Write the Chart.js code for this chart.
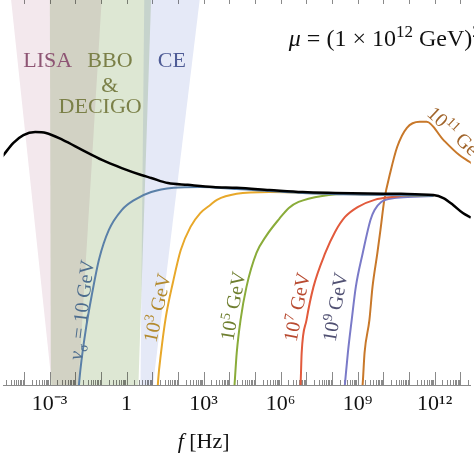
<!DOCTYPE html>
<html lang="en">
<head>
<meta charset="UTF-8">
<title>Cosmic string GW spectra</title>
<script src="https://cdn.jsdelivr.net/npm/chart.js"></script>
<style>
  html, body { margin: 0; padding: 0; background: #fff; overflow: hidden; }
  #wrap { width: 474px; height: 474px; }
</style>
</head>
<body>
<div id="wrap"><canvas id="gwChart"></canvas></div>
<script>
// x values are log10(f / Hz), y values are log10(Omega h^2)
const blackLogF = [-5.0, -4.79, -4.41, -4.02, -3.56, -3.14, -2.49, -1.72, -0.96, -0.19, 0.57, 0.96, 1.61, 2.38, 3.37, 4.29, 5.56, 6.86, 8.12, 9.39, 10.69, 11.95, 12.34, 12.72, 13.1, 13.41];
const blackOmega = [-12.55, -12.33, -11.93, -11.67, -11.57, -11.6, -11.83, -12.17, -12.5, -12.77, -13.0, -13.1, -13.27, -13.33, -13.4, -13.43, -13.5, -13.57, -13.6, -13.62, -13.63, -13.67, -13.77, -14.0, -14.27, -14.42];

const blueLogF = [-1.88, -1.84, -1.61, -1.34, -1.07, -0.69, -0.19, 0.31, 0.96, 1.84, 2.87, 4.29, 6.86, 9.39, 11.95];
const blueOmega = [-20.3, -19.83, -18.27, -16.93, -15.8, -14.83, -14.17, -13.83, -13.57, -13.43, -13.4, -13.47, -13.6, -13.66, -13.7];

const orangeLogF = [1.2, 1.23, 1.34, 1.53, 1.8, 2.11, 2.49, 2.87, 3.26, 3.52, 4.29, 5.56, 8.12, 11.95];
const orangeOmega = [-20.3, -19.83, -18.93, -17.73, -16.6, -15.5, -14.73, -14.27, -14.0, -13.83, -13.63, -13.57, -13.63, -13.7];

const greenLogF = [4.18, 4.21, 4.29, 4.44, 4.67, 5.06, 5.44, 5.94, 6.32, 6.7, 7.62, 8.77, 11.95];
const greenOmega = [-20.3, -19.93, -18.93, -17.83, -16.73, -15.6, -15.03, -14.47, -14.1, -13.9, -13.7, -13.63, -13.7];

const redLogF = [6.74, 6.78, 6.82, 7.01, 7.28, 7.74, 8.12, 8.51, 9.0, 9.66, 10.42, 11.19, 11.95];
const redOmega = [-20.3, -19.93, -18.93, -17.83, -16.73, -15.6, -14.9, -14.4, -14.07, -13.83, -13.73, -13.67, -13.7];

const purpleLogF = [8.47, 8.51, 8.62, 8.77, 8.93, 9.2, 9.5, 9.66, 9.92, 10.42, 11.19, 11.95];
const purpleOmega = [-20.3, -19.93, -18.93, -17.83, -16.73, -15.6, -14.5, -14.17, -13.9, -13.77, -13.73, -13.7];

const brownLogF = [9.16, 9.2, 9.27, 9.46, 9.58, 9.77, 9.89, 10.04, 10.27, 10.54, 10.92, 11.42, 11.69, 12.34, 12.95, 13.37, 13.6];
const brownOmega = [-20.3, -19.93, -18.93, -17.83, -16.73, -15.6, -14.83, -13.83, -12.93, -12.07, -11.43, -11.23, -11.23, -11.83, -12.33, -12.57, -12.72];

// detector sensitivity regions (outline, in order)
const lisaLogF = [-4.52, -2.91, -1.88, -0.96];
const lisaOmega = [-7.0, -20.0, -20.0, -7.0];
const bboLogF = [-2.99, -2.95, 0.46, 0.96];
const bboOmega = [-7.0, -20.0, -20.0, -7.0];
const ceLogF = [0.69, 0.54, 1.03, 2.87];
const ceOmega = [-7.0, -20.0, -20.0, -7.0];

const tickExps = [-3, 0, 3, 6, 9, 12];
const tickLabels = ['10⁻³', '1', '10³', '10⁶', '10⁹', '10¹²'];

const X_MIN = -4.79, X_MAX = 13.41;

const pts = (lf, om) => lf.map((e, i) => ({ x: Math.pow(10, e), y: om[i] }));

const notes = [
  { parts: [['LISA', '']], lf: -3.07, om: -9.17, rot: 0, color: '#8e5574' },
  { parts: [['BBO', '']], lf: -0.65, om: -9.17, rot: 0, color: '#7b8048' },
  { parts: [['&', '']], lf: -0.65, om: -10.0, rot: 0, color: '#7b8048' },
  { parts: [['DECIGO', '']], lf: -1.03, om: -10.7, rot: 0, color: '#7b8048' },
  { parts: [['CE', '']], lf: 1.76, om: -9.17, rot: 0, color: '#4f5c96' },
  { parts: [['μ', 'i'], [' = (1 × 10', ''], ['12', 'sup'], [' GeV)', ''], ['2', 'sup']], lf: 6.32, om: -8.43, rot: 0, color: '#111', align: 'left', size: 24 },
  { parts: [['v', 'i'], ['σ', 'sub'], [' = 10 GeV', '']], lf: -1.76, om: -17.5, rot: -83, color: '#4d6d8e', size: 20 },
  { parts: [['10', ''], ['3', 'sup'], [' GeV', '']], lf: 1.19, om: -17.43, rot: -78, color: '#b38a2e', size: 20 },
  { parts: [['10', ''], ['5', 'sup'], [' GeV', '']], lf: 4.14, om: -17.37, rot: -80, color: '#6f7f30', size: 20 },
  { parts: [['10', ''], ['7', 'sup'], [' GeV', '']], lf: 6.63, om: -17.4, rot: -79, color: '#b84a30', size: 20 },
  { parts: [['10', ''], ['9', 'sup'], [' GeV', '']], lf: 8.12, om: -17.4, rot: -80, color: '#505072', size: 20 },
  { parts: [['10', ''], ['11', 'sup'], [' GeV', '']], lf: 11.84, om: -10.83, rot: 43, color: '#a0642a', size: 20, align: 'left' }
];

function drawRich(ctx, parts, x, y, deg, size, color, align) {
  const fontFor = s => (s === 'i' ? 'italic ' : '') +
    Math.round(s === 'sup' || s === 'sub' ? size * 0.7 : size) + 'px "Liberation Serif", serif';
  ctx.save();
  ctx.translate(x, y);
  ctx.rotate(deg * Math.PI / 180);
  ctx.fillStyle = color;
  ctx.textBaseline = 'alphabetic';
  ctx.textAlign = 'left';
  let w = 0;
  parts.forEach(([t, s]) => { ctx.font = fontFor(s); w += ctx.measureText(t).width; });
  let cx = align === 'left' ? 0 : -w / 2;
  parts.forEach(([t, s]) => {
    ctx.font = fontFor(s);
    const dy = s === 'sup' ? -size * 0.38 : s === 'sub' ? size * 0.2 : 0;
    ctx.fillText(t, cx, size * 0.33 + dy);
    cx += ctx.measureText(t).width;
  });
  ctx.restore();
}

const decor = {
  id: 'decor',
  beforeDatasetsDraw(chart) {
    const { ctx, chartArea: a, scales: { x } } = chart;
    ctx.save();
    ctx.strokeStyle = '#8a8a8a';
    ctx.lineWidth = 1;
    x.ticks.forEach(t => {
      if (t.value < x.min || t.value > x.max) return;
      const px = Math.round(x.getPixelForValue(t.value)) + 0.5;
      const e = Math.log10(t.value);
      const major = Math.abs(e - Math.round(e)) < 1e-6;
      ctx.beginPath();
      ctx.moveTo(px, a.bottom);
      ctx.lineTo(px, a.bottom - (major ? 13 : 5));
      if (major) { ctx.moveTo(px, a.top); ctx.lineTo(px, a.top + 4); }
      ctx.stroke();
    });
    ctx.restore();
    ctx.globalCompositeOperation = 'multiply';
  },
  beforeDatasetDraw(chart, args) {
    if (!chart.data.datasets[args.index].band) chart.ctx.globalCompositeOperation = 'source-over';
  },
  afterDatasetsDraw(chart) {
    const { ctx, chartArea: a, scales: { x, y } } = chart;
    ctx.globalCompositeOperation = 'source-over';
    notes.forEach(n => {
      drawRich(ctx, n.parts, x.getPixelForValue(Math.pow(10, n.lf)), y.getPixelForValue(n.om),
        n.rot, n.size || 22, n.color, n.align);
    });
    drawRich(ctx, [['f', 'i'], [' [Hz]', '']], x.getPixelForValue(1e3), a.bottom + 56, 0, 22, '#111', 'center');
  }
};

const curve = (lf, om, color, width) => ({
  data: pts(lf, om), borderColor: color, borderWidth: width, fill: false,
  cubicInterpolationMode: 'monotone', pointRadius: 0
});
const band = (lf, om, color) => ({
  data: pts(lf, om), band: true, backgroundColor: color, borderColor: 'rgba(0,0,0,0)',
  borderWidth: 0, fill: 'shape', tension: 0, pointRadius: 0
});

const tickValues = [];
for (let n = -5; n <= 13; n++) {
  for (let k = 1; k <= 9; k++) {
    const v = k * Math.pow(10, n);
    if (Math.log10(v) >= X_MIN && Math.log10(v) <= X_MAX) tickValues.push(v);
  }
}

new Chart(document.getElementById('gwChart'), {
  type: 'line',
  data: {
    datasets: [
      curve(blackLogF, blackOmega, '#000000', 2.5),
      curve(blueLogF, blueOmega, '#5a80a8', 2),
      curve(orangeLogF, orangeOmega, '#e8a82a', 2),
      curve(greenLogF, greenOmega, '#8aac3a', 2),
      curve(redLogF, redOmega, '#e25a3c', 2),
      curve(purpleLogF, purpleOmega, '#7a7ac8', 2),
      curve(brownLogF, brownOmega, '#c8782a', 2),
      band(ceLogF, ceOmega, '#e5e9f7'),
      band(bboLogF, bboOmega, '#dde7d3'),
      band(lisaLogF, lisaOmega, '#f3e8ed')
    ]
  },
  options: {
    responsive: true,
    maintainAspectRatio: false,
    animation: false,
    layout: { padding: 0, autoPadding: false },
    plugins: { legend: { display: false }, tooltip: { enabled: false } },
    scales: {
      x: {
        type: 'logarithmic',
        min: Math.pow(10, X_MIN),
        max: Math.pow(10, X_MAX),
        afterBuildTicks: scale => { scale.ticks = tickValues.map(v => ({ value: v })); },
        afterFit: scale => { scale.height = 89; },
        grid: { display: false, drawTicks: false },
        border: { display: true, color: '#8a8a8a', width: 1 },
        ticks: {
          autoSkip: false,
          maxRotation: 0,
          minRotation: 0,
          padding: 6,
          color: '#111',
          font: { family: '"Liberation Serif", serif', size: 22 },
          callback: value => {
            const e = Math.log10(value);
            const r = Math.round(e);
            const i = tickExps.indexOf(r);
            return Math.abs(e - r) < 1e-6 && i >= 0 ? tickLabels[i] : '';
          }
        }
      },
      y: { type: 'linear', display: false, min: -20, max: -7.17 }
    }
  },
  plugins: [decor]
});
</script>
</body>
</html>
